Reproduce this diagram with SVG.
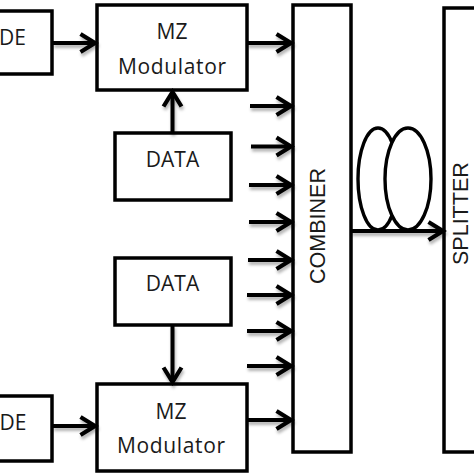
<svg xmlns="http://www.w3.org/2000/svg" width="474" height="474" viewBox="0 0 474 474">
<style>
.box{fill:#fff;stroke:#000;stroke-width:3.5}
.lbl{font-family:"Open Sans","Liberation Sans",sans-serif;font-size:21px;fill:#1a1a1a}
.rot{font-family:"Liberation Sans",Arial,sans-serif;font-size:21.5px;fill:#1a1a1a}
.arr{stroke:#000;stroke-width:4;fill:none;marker-end:url(#ah)}
.coil{fill:none;stroke:#000;stroke-width:3.4}
</style>
<defs>
<marker id="ah" markerUnits="userSpaceOnUse" markerWidth="24" markerHeight="24" viewBox="0 0 24 24" refX="18" refY="12" orient="auto">
<path d="M3.5,3 L18,12 L3.5,21" fill="none" stroke="#000" stroke-width="4.2" stroke-linejoin="miter"/>
</marker>
<filter id="sh" x="-20%" y="-50%" width="140%" height="200%">
<feDropShadow dx="1" dy="3" stdDeviation="1.5" flood-color="#000" flood-opacity="0.3"/>
</filter>
</defs>
<rect width="474" height="474" fill="#fff"/>

<g id="source-top">
<rect class="box" x="-10" y="11" width="62" height="63"/>
<text class="lbl" x="26" y="45" text-anchor="end">DE</text>
</g>
<g id="mz-top">
<rect class="box" x="97" y="5" width="150" height="85"/>
<text class="lbl" x="172" y="38.5" text-anchor="middle">MZ</text>
<text class="lbl" x="172" y="73.5" text-anchor="middle" textLength="108" lengthAdjust="spacing">Modulator</text>
</g>
<g id="data-top">
<rect class="box" x="115" y="133" width="116" height="67"/>
<text class="lbl" x="172.5" y="166.5" text-anchor="middle">DATA</text>
</g>
<g id="data-bottom">
<rect class="box" x="115" y="258" width="116" height="67"/>
<text class="lbl" x="172.5" y="290.5" text-anchor="middle">DATA</text>
</g>
<g id="source-bottom">
<rect class="box" x="-10" y="396" width="62" height="65"/>
<text class="lbl" x="26.5" y="429.5" text-anchor="end">DE</text>
</g>
<g id="mz-bottom">
<rect class="box" x="97" y="384" width="150" height="87"/>
<text class="lbl" x="171" y="419" text-anchor="middle">MZ</text>
<text class="lbl" x="171" y="452.5" text-anchor="middle" textLength="108" lengthAdjust="spacing">Modulator</text>
</g>
<g id="combiner">
<rect class="box" x="293" y="5" width="58" height="447"/>
<text class="rot" transform="translate(325,226) rotate(-90)" text-anchor="middle">COMBINER</text>
</g>
<g id="splitter">
<rect class="box" x="444" y="8" width="50" height="444"/>
<text class="rot" transform="translate(468,265) rotate(-90)">SPLITTER</text>
</g>
<g id="fiber">
<ellipse class="coil" cx="378" cy="179" rx="20" ry="51"/>
<ellipse class="coil" cx="408" cy="179" rx="23" ry="51" style="fill:#fff"/>
</g>

<g id="connectors" filter="url(#sh)">
<line class="arr" x1="53" y1="43" x2="95" y2="43"/>
<line class="arr" x1="53" y1="426" x2="95" y2="426"/>
<line class="arr" x1="172.5" y1="133" x2="172.5" y2="92"/>
<line class="arr" x1="172.5" y1="325" x2="172.5" y2="382"/>
<line class="arr" x1="247" y1="43" x2="291" y2="43"/>
<line class="arr" x1="250" y1="106" x2="291" y2="106"/>
<line class="arr" x1="251" y1="146.5" x2="291" y2="146.5"/>
<line class="arr" x1="249" y1="185" x2="291" y2="185"/>
<line class="arr" x1="249" y1="222" x2="291" y2="222"/>
<line class="arr" x1="248" y1="260" x2="291" y2="260"/>
<line class="arr" x1="247" y1="295" x2="291" y2="295"/>
<line class="arr" x1="247" y1="331" x2="291" y2="331"/>
<line class="arr" x1="247" y1="366" x2="291" y2="366"/>
<line class="arr" x1="247" y1="420" x2="291" y2="420"/>
<line class="arr" x1="351" y1="231" x2="443" y2="231"/>
</g>
</svg>
